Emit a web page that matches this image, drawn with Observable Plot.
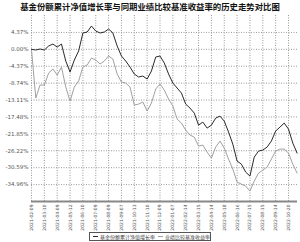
<!DOCTYPE html>
<html><head><meta charset="utf-8">
<script src="https://cdn.jsdelivr.net/npm/d3@7"></script>
<script src="https://cdn.jsdelivr.net/npm/@observablehq/plot@0.6"></script>
<style>
body{margin:0;background:#fff;width:300px;height:242px;overflow:hidden;font-family:"Noto Sans CJK SC","Noto Sans",sans-serif}
#title{height:12px;line-height:12px;font-size:8.4px;font-weight:bold;text-align:center;color:#111;white-space:nowrap}
#chart{height:220px}
#chart svg{overflow:visible}
#chart svg g[aria-label="x-axis tick label"]{font-size:4.5px}
#legend{margin:0 auto;width:122px;height:9px;border:1px solid #555;display:flex;align-items:center;justify-content:center;font-size:5px;color:#444;white-space:nowrap;box-sizing:border-box}
#legend .sw{display:inline-block;width:9px;height:0;border-top:1px solid;margin:0 2px 0 3px;vertical-align:middle}
</style></head><body>
<div id="title">基金份额累计净值增长率与同期业绩比较基准收益率的历史走势对比图</div>
<div id="chart"></div>
<div id="legend"></div>
<script>
const seriesNames = ["基金份额累计净值增长率", "业绩比较基准收益率"];
const seriesColors = ["#2a2a2a", "#a0a0a0"];
const tickLabels = ["2021-02-09","2021-03-10","2021-04-09","2021-05-12","2021-06-10","2021-07-09","2021-08-09","2021-09-07","2021-10-13","2021-11-10","2021-12-09","2022-01-07","2022-02-14","2022-03-15","2022-04-14","2022-05-18","2022-06-16","2022-07-15","2022-08-15","2022-09-14","2022-10-20"];
const yTicks = [4.37, 0, -4.37, -8.74, -13.11, -17.48, -21.85, -26.22, -30.59, -34.96];
const fund = [0.00,-0.18,0.08,-0.18,0.85,1.37,0.59,1.37,-3.03,-5.87,-2.77,-0.44,4.22,4.47,6.03,4.73,4.22,4.47,5.25,4.22,0.85,-1.73,-3.03,-4.58,-6.39,-7.16,-6.91,-7.68,-5.61,-1.99,-1.73,-3.54,-6.39,-8.71,-10.01,-11.30,-14.15,-15.19,-16.48,-19.59,-18.81,-20.36,-19.59,-17.78,-17.26,-18.55,-21.39,-24.49,-28.89,-29.66,-31.73,-32.76,-27.85,-26.30,-26.04,-25.27,-23.72,-21.13,-20.10,-19.07,-20.62,-24.23,-26.82];
const bench = [0.00,-12.60,-9.23,-9.23,-6.13,-5.09,-6.65,-4.58,-9.75,-13.37,-9.75,-8.20,-4.58,-4.06,-2.25,-2.77,-3.80,-3.03,-1.73,-2.51,-6.39,-8.46,-8.71,-9.75,-14.41,-14.15,-13.63,-15.96,-13.89,-10.27,-8.97,-10.53,-12.85,-14.66,-18.03,-19.06,-20.87,-22.16,-22.68,-25.01,-24.75,-26.56,-28.11,-25.27,-23.71,-25.53,-28.37,-30.96,-34.32,-34.83,-35.35,-36.64,-34.06,-31.99,-31.21,-30.44,-28.37,-26.30,-25.79,-25.79,-26.82,-29.66,-31.99];
const yMin = -39.33, yMax = 8.74;

const rows = [];
bench.forEach((v, i) => rows.push({i, v, s: seriesNames[1]}));
fund.forEach((v, i) => rows.push({i, v, s: seriesNames[0]}));
const xTicks = tickLabels.map((_, k) => k * 3);

const chart = Plot.plot({
  width: 300, height: 220,
  marginTop: 3, marginBottom: 31, marginLeft: 31, marginRight: 3,
  style: {fontSize: "5.5px", color: "#555", background: "white", fontFamily: "DejaVu Sans, sans-serif"},
  x: {domain: [0, 62.1], ticks: xTicks, tickFormat: d => tickLabels[Math.round(d / 3)], tickRotate: -90, tickSize: 0, tickPadding: 3, label: null},
  y: {domain: [yMin, yMax], ticks: yTicks, tickFormat: d => d.toFixed(2) + "%", tickSize: 0, tickPadding: 3, label: null},
  color: {domain: seriesNames, range: seriesColors},
  marks: [
    Plot.gridX(xTicks, {stroke: "#999", strokeOpacity: 1, strokeDasharray: "1,1.5"}),
    Plot.gridY(yTicks, {stroke: "#999", strokeOpacity: 1, strokeDasharray: "1,1.5"}),
    Plot.ruleY([yMin], {stroke: "#888", strokeWidth: 2}),
    Plot.line(rows, {x: "i", y: "v", z: "s", stroke: "s", strokeWidth: 1})
  ]
});
document.getElementById("chart").appendChild(chart);

const leg = document.getElementById("legend");
seriesNames.forEach((n, k) => {
  const sw = document.createElement("span");
  sw.className = "sw"; sw.style.borderColor = seriesColors[k];
  const t = document.createElement("span"); t.textContent = n;
  leg.appendChild(sw); leg.appendChild(t);
});
</script>
</body></html>
